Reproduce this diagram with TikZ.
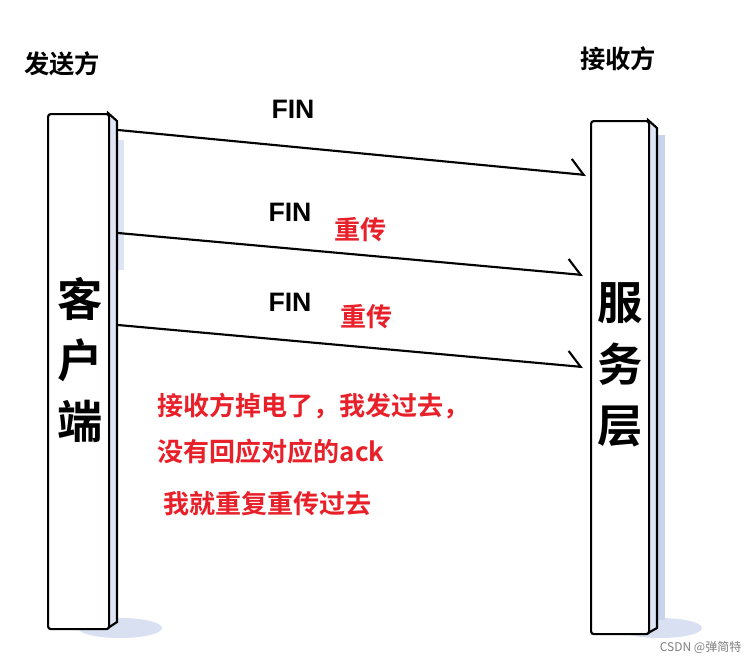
\documentclass[tikz,border=0pt]{standalone}
\usepackage{fontspec}
\setmainfont{Liberation Sans}
\newfontfamily\cjk{Noto Sans CJK SC}[BoldFont={Noto Sans CJK SC Bold}]
\usetikzlibrary{arrows.meta}
\definecolor{sred}{HTML}{E8202A}
\definecolor{sshade}{HTML}{C9D3EC}
\begin{document}
\begin{tikzpicture}[x=0.75pt,y=-0.75pt,
  bar/.style={draw=black,line width=1.6pt,fill=white,rounded corners=2pt,inner sep=0pt},
  msg/.style={line width=1.6pt,-{Straight Barb[left,length=10pt,width=22pt,line width=1.6pt]}},
  lbl/.style={font=\bfseries\fontsize{20}{24}\selectfont},
  red/.style={text=sred,font=\cjk\bfseries\fontsize{19.5}{24}\selectfont},
  big/.style={font=\cjk\bfseries\fontsize{34}{46}\selectfont,align=center},
  hdr/.style={font=\cjk\bfseries\fontsize{19}{22}\selectfont}]
\useasboundingbox (0,0) rectangle (751,661);
\fill[white] (0,0) rectangle (751,661);
% shadows
\fill[sshade!70] (120,628) ellipse (42 and 10);
\fill[sshade!70] (660,628) ellipse (42 and 10);
\fill[sshade!60] (117,140) rectangle (124,270);
\fill[sshade] (657,135) rectangle (665,620);
% client bar side + front
\filldraw[fill=sshade!60,line width=1.6pt] (108,113) -- (117,121) -- (117,622) -- (108,628) -- cycle;
\node[bar,minimum width=45.75pt,minimum height=386.25pt,anchor=north west] (c) at (47,113) {};
\filldraw[fill=sshade!60,line width=1.6pt] (648,120) -- (657,128) -- (657,628) -- (648,633) -- cycle;
\node[bar,minimum width=43.5pt,minimum height=384.75pt,anchor=north west] (s) at (590,120) {};
\node[big] (ct) at (80,360) {客\\户\\端};
\node[big] (st) at (620,365) {服\\务\\层};
\node[hdr] (h1) at (62,64) {发送方};
\node[hdr] (h2) at (618,59) {接收方};
\coordinate (a1) at (118,130); \coordinate (b1) at (586,175);
\coordinate (a2) at (118,233); \coordinate (b2) at (583,275);
\coordinate (a3) at (118,325); \coordinate (b3) at (583,367);
\draw[msg] (a1) -- (b1);
\draw[msg] (a2) -- (b2);
\draw[msg] (a3) -- (b3);
\node[lbl] (f1) at (293,109) {FIN};
\node[lbl] (f2) at (290,212) {FIN};
\node[lbl] (f3) at (290,302) {FIN};
\node[red] (r1) at (360,230) {重传};
\node[red] (r2) at (366,317) {重传};
\node[red,anchor=west] (t1) at (153,406) {接收方掉电了，我发过去，};
\node[red,anchor=west] (t2) at (153,452) {没有回应对应的ack};
\node[red,anchor=west] (t3) at (159,504) {我就重复重传过去};
\node[text=gray,font=\cjk\fontsize{9}{10}\selectfont,anchor=east] (w) at (746,647) {CSDN @弹简特};
\end{tikzpicture}
\end{document}
